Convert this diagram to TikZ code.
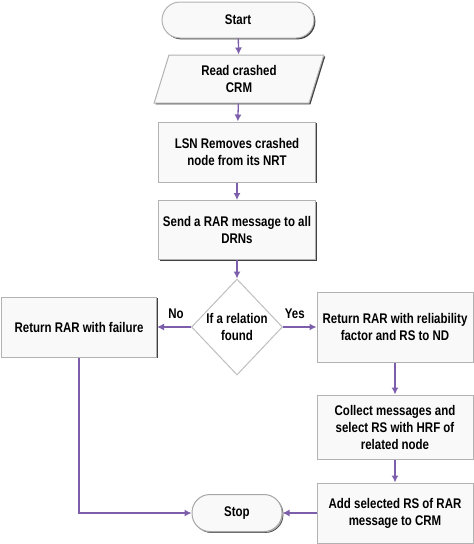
\documentclass[tikz,border=0pt]{standalone}
\usepackage{fontspec}
\setmainfont[FakeStretch=0.82]{Liberation Sans}
\usetikzlibrary{shapes.geometric,arrows.meta,shadows}
\definecolor{fcPurple}{RGB}{124,94,170}
\begin{document}
\begin{tikzpicture}[x=1pt,y=-1pt]
\tikzset{
    fcBox/.style={draw=gray!60,line width=1pt,fill=gray!5,align=center,inner sep=2pt,
        font=\bfseries\fontsize{14}{17}\selectfont,
        drop shadow={shadow xshift=1.4pt,shadow yshift=-1.4pt,fill=black!75,opacity=1}},
    fcProc/.style={fcBox,rectangle,minimum width=157pt},
    fcTerm/.style={fcBox,rectangle,rounded corners=18pt,minimum height=36pt},
    fcIO/.style={fcBox,trapezium,trapezium left angle=75,trapezium right angle=105,
        trapezium stretches=true,minimum width=170pt,minimum height=48pt},
    fcDecision/.style={draw=gray!50,line width=1pt,fill=white,diamond,aspect=1,inner sep=0pt,
        minimum width=91pt,minimum height=96pt,align=center,font=\bfseries\fontsize{14}{17}\selectfont},
    fcArrow/.style={draw=fcPurple,line width=1.3pt,-{Latex[length=7pt,width=7pt]}},
    fcLabel/.style={font=\bfseries\fontsize{14}{17}\selectfont}
}
% main column
\node[fcTerm,minimum width=152pt] (start) at (238,20) {Start};
\node[fcIO] (read) at (239,79) {Read crashed\\CRM};
\node[fcProc,minimum height=60pt] (lsn) at (237,152) {LSN Removes crashed\\node from its NRT};
\node[fcProc,minimum height=59pt] (send) at (237,230) {Send a RAR message to all\\DRNs};
\node[fcDecision] (dec) at (237,327) {If a relation\\found};
% branches
\node[fcProc,minimum width=155pt,minimum height=60pt] (fail) at (79,327) {Return RAR with failure};
\node[fcProc,minimum width=156pt,minimum height=70pt] (ret) at (395,327) {Return RAR with reliability\\factor and RS to ND};
\node[fcProc,minimum width=156pt,minimum height=64pt] (coll) at (395,427) {Collect messages and\\select RS with HRF of\\related node};
\node[fcProc,minimum width=156pt,minimum height=60pt] (add) at (395,513) {Add selected RS of RAR\\message to CRM};
\node[fcTerm,minimum width=90pt,minimum height=37pt,draw=gray!70,drop shadow={shadow xshift=0.8pt,shadow yshift=-0.8pt,fill=gray!60,opacity=1}] (stop) at (237,513) {Stop};

% connectors
\draw[fcArrow] (start) -- (read);
\draw[fcArrow] (read) -- (lsn);
\draw[fcArrow] (lsn) -- (send);
\draw[fcArrow] (send) -- (dec);
\draw[fcArrow] (dec.west) -- node[fcLabel,above=4pt,xshift=2pt] {No} (fail.east);
\draw[fcArrow] (dec.east) -- node[fcLabel,above=4pt,xshift=-5pt] {Yes} (ret.west);
\draw[fcArrow] (ret) -- (coll);
\draw[fcArrow] (coll) -- (add);
\draw[fcArrow] (add) -- (stop);
\draw[fcArrow] (fail.south) |- (stop.west);

\useasboundingbox (0,0) rectangle (474,544);
\end{tikzpicture}
\end{document}
